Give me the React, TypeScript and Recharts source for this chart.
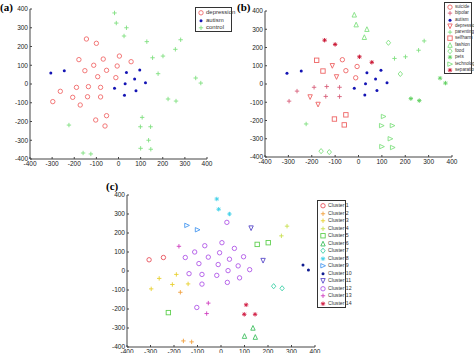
import React from "react";
import { ScatterChart, Scatter, XAxis, YAxis } from "recharts";

// t-SNE style coordinates, same 57 points in all three panels
const PX = [-145, -100, -179, -69, 4, 57, -112, -152, -54, -6, -94, -12, -190, -136, -81, -263, -207, -140, -81, -297, -173, -54, -103, -61,
  -306, -245, 36, 96, 73, 122, 30, -18, 79, 27,
  -18, -10, 36, 25, 128, 281, 257, 201, 154, 179, 349, 372, 224, 260, 107, 99, 145, 136, 100, 146, -224, -160, -125];
const PY = [240, 217, 130, 133, 149, 119, 100, 71, 73, 96, 39, 34, -18, -14, -18, -39, -71, -68, -69, -94, -112, -169, -192, -224,
  59, 71, 62, 75, 27, 7, 2, -23, -36, -60,
  379, 325, 300, 256, 226, 236, 185, 149, 140, 55, 32, 5, -80, -91, -178, -228, -228, -300, -343, -348, -219, -368, -373];

const LABEL_A = [
  ...Array(24).fill("depression"), ...Array(10).fill("autism"), ...Array(23).fill("control"),
];
const LABEL_B = [
  "separation", "separation", "selfharm", "suicide", "separation", "separation", "depression", "selfharm", "suicide", "suicide",
  "depression", "suicide", "bipolar", "bipolar", "bipolar", "bipolar", "depression", "bipolar", "bipolar", "bipolar",
  "depression", "selfharm", "selfharm", "selfharm",
  ...Array(10).fill("autism"),
  "fashion", "fashion", "fashion", "fashion", "food", "parenting", "parenting", "parenting", "parenting", "food",
  "pets", "pets", "pets", "pets", "technology", "technology", "technology", "technology", "technology", "technology",
  "parenting", "food", "food",
];
const LABEL_C = [
  9, 9, 13, 12, 12, 12, 12, 12, 12, 12, 12, 12, 3, 12, 12, 3, 3, 3, 12, 3, 2, 13, 12, 13,
  1, 1, 12, 12, 12, 12, 12, 12, 12, 12,
  8, 8, 8, 12, 11, 4, 4, 5, 5, 11, 10, 10, 7, 7, 14, 14, 14, 6, 6, 6, 5, 2, 2,
];

const CATS_A = ["depression", "autism", "control"];
const CATS_B = ["suicide", "bipolar", "autism", "depression", "parenting", "selfharm", "fashion", "food", "pets", "technology", "separation"];
const CATS_C = [1, 2, 3, 4, 5, 6, 7, 8, 9, 10, 11, 12, 13, 14];

const TICKS = [-400, -300, -200, -100, 0, 100, 200, 300, 400];

const STYLE_A: Record<string, [string, string]> = {
  depression: ["circle", "#f06a6a"],
  autism: ["dot", "#1414b4"],
  control: ["plus", "#80e080"],
};
const STYLE_B: Record<string, [string, string]> = {
  suicide: ["circle", "#ee6464"],
  bipolar: ["plus", "#d8607a"],
  autism: ["dot", "#1414b4"],
  depression: ["triDown", "#ee6464"],
  parenting: ["plus", "#80e080"],
  selfharm: ["square", "#ee6464"],
  fashion: ["triUp", "#80e080"],
  food: ["diamond", "#80e080"],
  pets: ["star", "#60d060"],
  technology: ["triRight", "#80e080"],
  separation: ["star", "#c8102e"],
};
const STYLE_C: Record<number, [string, string]> = {
  1: ["circle", "#e8505a"],
  2: ["plus", "#f0a040"],
  3: ["plus", "#e8d030"],
  4: ["plus", "#c8e050"],
  5: ["square", "#60d050"],
  6: ["triUp", "#40c060"],
  7: ["diamond", "#40d0a8"],
  8: ["star", "#40d0e8"],
  9: ["triRight", "#4898f0"],
  10: ["dot", "#101c90"],
  11: ["triDown", "#5848c8"],
  12: ["circle", "#b058e8"],
  13: ["plus", "#d040c0"],
  14: ["star", "#d01840"],
};

function Marker({ x, y, kind, color }: { x: number; y: number; kind: string; color: string }) {
  const s = 2.2;
  const w = 0.9;
  switch (kind) {
    case "circle":
      return <circle cx={x} cy={y} r={s} fill="none" stroke={color} strokeWidth={w} />;
    case "dot":
      return <circle cx={x} cy={y} r={1.5} fill={color} />;
    case "plus":
      return <path d={`M${x - s},${y}H${x + s}M${x},${y - s}V${y + s}`} stroke={color} strokeWidth={w} />;
    case "star": {
      const d = s * 0.7;
      return (
        <path
          d={`M${x - s},${y}H${x + s}M${x},${y - s}V${y + s}M${x - d},${y - d}L${x + d},${y + d}M${x - d},${y + d}L${x + d},${y - d}`}
          stroke={color}
          strokeWidth={w}
        />
      );
    }
    case "square":
      return <rect x={x - s} y={y - s} width={2 * s} height={2 * s} fill="none" stroke={color} strokeWidth={w} />;
    case "diamond":
      return <path d={`M${x},${y - s - 0.4}L${x + s},${y}L${x},${y + s + 0.4}L${x - s},${y}Z`} fill="none" stroke={color} strokeWidth={w} />;
    case "triUp":
      return <path d={`M${x},${y - s - 0.3}L${x + s},${y + s}L${x - s},${y + s}Z`} fill="none" stroke={color} strokeWidth={w} />;
    case "triDown":
      return <path d={`M${x},${y + s + 0.3}L${x + s},${y - s}L${x - s},${y - s}Z`} fill="none" stroke={color} strokeWidth={w} />;
    case "triRight":
      return <path d={`M${x + s + 0.3},${y}L${x - s},${y - s}L${x - s},${y + s}Z`} fill="none" stroke={color} strokeWidth={w} />;
    default:
      return null;
  }
}

function buildSeries(labels: any[], cats: any[], styles: Record<string, [string, string]>) {
  return cats.map((c) => ({
    key: String(c),
    kind: styles[c][0],
    color: styles[c][1],
    data: PX.map((x, i) => ({ x, y: PY[i], l: labels[i] })).filter((p) => p.l === c),
  }));
}

const tickStyle = { fontSize: 6.5, fill: "#222", fontFamily: "Liberation Sans, Arial, sans-serif" };

function Panel({ left, top, width, height, plotLeft, plotTop, plotRight, series }: any) {
  return (
    <div style={{ position: "absolute", left, top }}>
      <ScatterChart width={width} height={height} margin={{ top: plotTop, right: plotRight, left: 0, bottom: 0 }}>
        <XAxis
          type="number"
          dataKey="x"
          domain={[-400, 400]}
          ticks={TICKS}
          height={16}
          tickSize={-2}
          tickMargin={4}
          stroke="#444"
          tick={tickStyle}
          interval={0}
        />
        <YAxis
          type="number"
          dataKey="y"
          domain={[-400, 400]}
          ticks={TICKS}
          width={plotLeft}
          tickSize={-2}
          tickMargin={4}
          stroke="#444"
          tick={tickStyle}
          interval={0}
        />
        {series.map((s: any) => (
          <Scatter
            key={s.key}
            data={s.data}
            isAnimationActive={false}
            shape={(p: any) => <Marker x={p.cx} y={p.cy} kind={s.kind} color={s.color} />}
          />
        ))}
      </ScatterChart>
    </div>
  );
}

function LegendBox({ left, top, width, height, rowH, fontSize, items }: any) {
  return (
    <div
      style={{
        position: "absolute",
        left,
        top,
        width,
        height,
        boxSizing: "border-box",
        border: "1px solid #333",
        background: "#fff",
        paddingTop: 1,
        fontFamily: "Liberation Sans, Arial, sans-serif",
        fontSize,
        color: "#333",
      }}
    >
      {items.map((it: any) => (
        <div key={it.label} style={{ display: "flex", alignItems: "center", height: rowH, lineHeight: `${rowH}px`, whiteSpace: "nowrap" }}>
          <svg width={8} height={rowH} style={{ flex: "none", marginLeft: 1 }}>
            <Marker x={4} y={rowH / 2} kind={it.kind} color={it.color} />
          </svg>
          <span style={{ marginLeft: 1 }}>{it.label}</span>
        </div>
      ))}
    </div>
  );
}

const panelLabel = { position: "absolute" as const, fontFamily: "Liberation Serif, Times New Roman, serif", fontWeight: "bold" as const, fontSize: 11 };

export default function App() {
  const seriesA = buildSeries(LABEL_A, CATS_A, STYLE_A as any);
  const seriesB = buildSeries(LABEL_B, CATS_B, STYLE_B as any);
  const seriesC = buildSeries(LABEL_C, CATS_C, STYLE_C as any);
  return (
    <div style={{ position: "absolute", left: 0, top: 0, width: 474, height: 353, overflow: "hidden", background: "#fff" }}>
      <Panel left={0} top={0} width={237} height={175} plotLeft={30} plotTop={9} plotRight={30} series={seriesA} />
      <Panel left={237} top={0} width={237} height={173} plotLeft={28} plotTop={11} plotRight={22} series={seriesB} />
      <Panel left={97} top={175} width={240} height={188} plotLeft={30} plotTop={20} plotRight={22} series={seriesC} />

      <div style={{ ...panelLabel, left: 0, top: 1 }}>(a)</div>
      <div style={{ ...panelLabel, left: 237, top: 1 }}>(b)</div>
      <div style={{ ...panelLabel, left: 106, top: 180 }}>(c)</div>

      <LegendBox left={195} top={7} width={37} height={25} rowH={7.6} fontSize={6} items={seriesA.map((s) => ({ label: s.key, kind: s.kind, color: s.color }))} />
      <LegendBox left={444} top={2} width={28} height={72} rowH={6.3} fontSize={4.6} items={seriesB.map((s) => ({ label: s.key, kind: s.kind, color: s.color }))} />
      <LegendBox left={317} top={200} width={29} height={108} rowH={7.5} fontSize={5.2} items={seriesC.map((s) => ({ label: `Cluster ${s.key}`, kind: s.kind, color: s.color }))} />
    </div>
  );
}
